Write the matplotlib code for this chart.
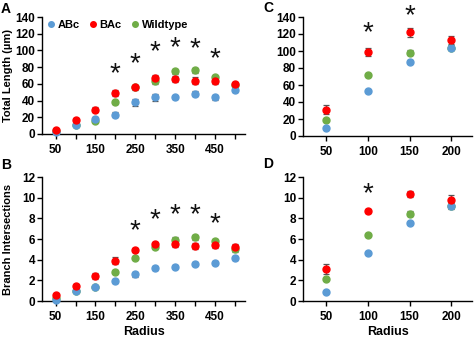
import matplotlib
matplotlib.use("Agg")
import matplotlib.pyplot as plt
import numpy as np

plt.rcParams['font.family'] = ['Liberation Sans', 'DejaVu Sans']
plt.rcParams['font.weight'] = 'bold'

# Sholl analysis: radii (µm)
radius_full = [50, 100, 150, 200, 250, 300, 350, 400, 450, 500]
radius_short = [50, 100, 150, 200]
series_names = ["ABc", "BAc", "Wildtype"]
colors = {"ABc": "#5B9BD5", "BAc": "#FF0000", "Wildtype": "#70AD47"}

# Panel A: total length
length_a = {
    "ABc":      [2, 11, 18, 23, 38, 44, 44, 48, 44, 53],
    "BAc":      [5, 17, 29, 49, 56, 67, 66, 64, 63, 60],
    "Wildtype": [3, 11, 16, 38, 56, 63, 75, 76, 68, 59],
}
length_a_err = {
    "ABc":      [1, 1.5, 2, 3, 4, 4, 2, 3, 3, 3],
    "BAc":      [1, 2, 3, 4, 3, 4, 4, 4, 3, 2],
    "Wildtype": [1, 1.5, 2, 2, 2, 3, 3, 3, 2, 2],
}
stars_a_x = [200, 250, 300, 350, 400, 450]
stars_a_y = [71, 84, 98, 103, 102, 90]

# Panel B: branch intersections
inter_b = {
    "ABc":      [0.1, 1.0, 1.4, 1.9, 2.6, 3.2, 3.3, 3.6, 3.7, 4.2],
    "BAc":      [0.55, 1.45, 2.45, 3.9, 4.9, 5.5, 5.5, 5.3, 5.4, 5.2],
    "Wildtype": [0.3, 1.0, 1.4, 2.85, 4.2, 5.2, 5.95, 6.15, 5.8, 5.0],
}
inter_b_err = {
    "ABc":      [0.05, 0.1, 0.1, 0.2, 0.25, 0.2, 0.15, 0.15, 0.15, 0.2],
    "BAc":      [0.1, 0.15, 0.3, 0.35, 0.2, 0.2, 0.25, 0.3, 0.25, 0.3],
    "Wildtype": [0.05, 0.1, 0.1, 0.15, 0.15, 0.2, 0.2, 0.2, 0.2, 0.3],
}
stars_b_x = [250, 300, 350, 400, 450]
stars_b_y = [6.8, 7.8, 8.35, 8.3, 7.4]

# Panel C: total length, short range
length_c = {
    "ABc":      [9, 53, 87.5, 104],
    "BAc":      [31, 99, 122, 113],
    "Wildtype": [19, 72, 98, 104],
}
length_c_err = {
    "ABc":      [1, 1.5, 1.5, 2],
    "BAc":      [5, 5, 5, 5],
    "Wildtype": [1.5, 1.5, 3, 3],
}
stars_c_x = [100, 150]
stars_c_y = [121, 141]

# Panel D: branch intersections, short range
inter_d = {
    "ABc":      [0.87, 4.67, 7.56, 9.2],
    "BAc":      [3.09, 8.75, 10.33, 9.82],
    "Wildtype": [2.09, 6.43, 8.46, 9.2],
}
inter_d_err = {
    "ABc":      [0.1, 0.1, 0.1, 0.2],
    "BAc":      [0.45, 0.2, 0.3, 0.45],
    "Wildtype": [0.1, 0.1, 0.25, 0.3],
}
stars_d_x = [100]
stars_d_y = [10.35]

W, H = 474, 347
fig = plt.figure(figsize=(W / 100, H / 100), dpi=100)


def px_axes(left, top, right, bottom):
    return fig.add_axes([left / W, 1 - bottom / H, (right - left) / W, (bottom - top) / H])


def style(ax, xs, ylim, ystep, xlim, label_every):
    for s in ("top", "right"):
        ax.spines[s].set_visible(False)
    for s in ("left", "bottom"):
        ax.spines[s].set_color("black")
        ax.spines[s].set_linewidth(1.0)
    ax.set_xlim(*xlim)
    ax.set_ylim(*ylim)
    ax.set_yticks(np.arange(ylim[0], ylim[1] + 0.001, ystep))
    ax.set_xticks(xs)
    ax.set_xticklabels([str(x) if i % label_every == 0 else "" for i, x in enumerate(xs)])
    ax.tick_params(axis="both", direction="out", length=3.5, width=1, labelsize=8.5, pad=1.5)
    ax.tick_params(axis="x", pad=4)
    for lab in ax.get_xticklabels() + ax.get_yticklabels():
        lab.set_fontweight("bold")


def draw(ax, xs, data, err, sx, sy):
    for name in ["Wildtype", "ABc", "BAc"]:
        ax.errorbar(xs, data[name], yerr=err[name], fmt="o", ms=5, color=colors[name],
                    ecolor="#555555", elinewidth=0.9, capsize=2, capthick=0.9,
                    label=name, zorder=3, clip_on=False)
    for x, y in zip(sx, sy):
        ax.text(x, y, "*", ha="center", va="center", fontsize=20, fontweight="normal",
                color="#111111", clip_on=False)


axA = px_axes(42, 17, 245, 134)
draw(axA, radius_full, length_a, length_a_err, stars_a_x, stars_a_y)
style(axA, radius_full, (0, 140), 20, (16, 525), 2)
axA.set_ylabel("Total Length (µm)", fontsize=8, fontweight="bold")
axA.yaxis.set_label_coords(-0.145, 0.5)
handles, labels = axA.get_legend_handles_labels()
order = [labels.index(n) for n in series_names]
leg = axA.legend([handles[i][0] for i in order], [labels[i] for i in order],
                 loc="upper left", ncol=3, frameon=False, fontsize=8, handlelength=0.6,
                 handletextpad=0.3, columnspacing=0.9, borderaxespad=0.1,
                 bbox_to_anchor=(0.0, 1.02), markerscale=0.8)
for t in leg.get_texts():
    t.set_fontweight("bold")

axB = px_axes(42, 177, 245, 301)
draw(axB, radius_full, inter_b, inter_b_err, stars_b_x, stars_b_y)
style(axB, radius_full, (0, 12), 2, (16, 525), 2)
axB.set_ylabel("Branch Intersections", fontsize=8, fontweight="bold")
axB.yaxis.set_label_coords(-0.145, 0.5)
axB.set_xlabel("Radius", fontsize=9, fontweight="bold", labelpad=2)

axC = px_axes(303, 17, 472, 136)
draw(axC, radius_short, length_c, length_c_err, stars_c_x, stars_c_y)
style(axC, radius_short, (0, 140), 20, (22, 225), 1)

axD = px_axes(303, 177, 472, 301)
draw(axD, radius_short, inter_d, inter_d_err, stars_d_x, stars_d_y)
style(axD, radius_short, (0, 12), 2, (22, 225), 1)
axD.set_xlabel("Radius", fontsize=9, fontweight="bold", labelpad=2)

for letter, x, y in [("A", 1, 9), ("B", 1, 165), ("C", 263, 8), ("D", 263, 164)]:
    fig.text(x / W, 1 - y / H, letter, fontsize=10, fontweight="bold", ha="left", va="center")

fig.savefig("out.png", dpi=100)
